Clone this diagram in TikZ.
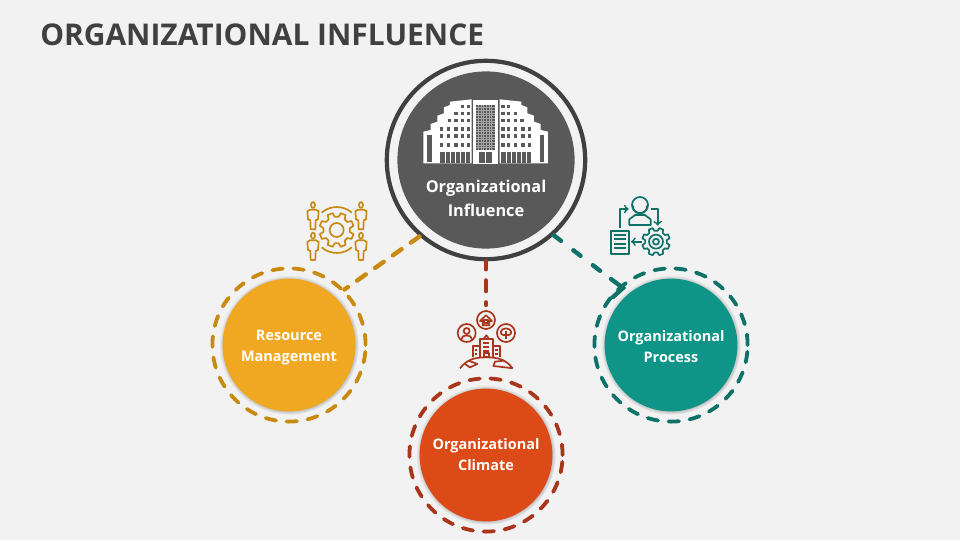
\documentclass[tikz,border=0pt]{standalone}
\usepackage{fontspec}
\setmainfont{Open Sans}
\usetikzlibrary{shadows, calc}

\definecolor{bgGray}{HTML}{F2F2F2}
\definecolor{darkGray}{HTML}{404040}
\definecolor{mainGray}{HTML}{595959}
\definecolor{gridGray}{HTML}{A6A6A6}
\definecolor{resFill}{HTML}{F0A823}
\definecolor{resLine}{HTML}{C98A12}
\definecolor{climFill}{HTML}{DB4A17}
\definecolor{climLine}{HTML}{A9361B}
\definecolor{procFill}{HTML}{0F9488}
\definecolor{procLine}{HTML}{0F7268}

\tikzset{
    bubble/.style={circle, minimum size=33.2mm, inner sep=0pt, circular glow={fill=black!55, shadow scale=1.05}},
    bubbletext/.style={align=center, text=white, font=\bfseries\fontsize{10.3}{15}\selectfont},
    ring/.style={circle, minimum size=38.3mm, inner sep=0pt, line width=2.7pt, dash pattern=on 7.5pt off 7.5pt, line cap=round},
    link/.style={line width=3.1pt, line cap=round, dash pattern=on 7.6pt off 8pt},
    iconline/.style={line width=1.2pt, line join=round, fill=none},
    pics/person/.style={code={
        \draw[iconline] (0,-28) ellipse (6 and 9);
        \draw[iconline] (-9,-14) -- (9,-14) -- (17,-9) -- (15,15) -- (8,18) -- (7,45) -- (-7,45) -- (-8,18) -- (-15,15) -- (-17,-9) -- cycle;
    }},
    pics/gearicon/.style n args={3}{code={
        \draw[iconline] (0-14:#1) \foreach \a in {0,45,...,315}{ -- (\a-14:#1) -- (\a-8:#2) -- (\a+8:#2) -- (\a+14:#1) } -- cycle;
        \draw[iconline] (0,0) circle (#3);
    }},
    pics/wing/.style={code={
        \fill[white] (-187,85) -- (-165,80) -- (-165,62) -- (-145,55) -- (-145,37) -- (-125,30) -- (-125,12) -- (-107,5) -- (-107,-5) -- (-42,-12) -- (-42,180) -- (-187,180) -- cycle;
        \foreach \wx/\wy in {-69/10, -52/10, -89/30, -69/30, -52/30, -109/52, -89/52, -69/52, -52/52} {
            \fill[mainGray] (\wx-5,\wy-5) rectangle (\wx+5,\wy+5);
        }
        \foreach \wy in {77,98,125} {
            \foreach \wx in {-132,-112,-89,-69,-52} {
                \fill[mainGray] (\wx-5,\wy-5) rectangle (\wx+5,\wy+5);
            }
        }
        \fill[mainGray] (-175,95) rectangle (-162,175);
        \fill[mainGray] (-137,145) rectangle (-47,178);
        \foreach \wx in {-122,-107,-92,-77,-62} {
            \draw[white, line width=0.5pt] (\wx,145) -- (\wx,178);
        }
    }},
}

\begin{document}
\begin{tikzpicture}[x=0.25mm, y=-0.25mm]
    \fill[bgGray] (0,0) rectangle (960,540);
    \useasboundingbox (0,0) rectangle (960,540);

    \node[anchor=west, text=darkGray, font=\bfseries\fontsize{21.3}{26}\selectfont, inner sep=0pt] (title) at (40,34.5) {ORGANIZATIONAL INFLUENCE};

    % dashed rings
    \node[ring, draw=resLine] (resring) at (289,345) {};
    \node[ring, draw=climLine] (climring) at (486,455) {};
    \node[ring, draw=procLine] (procring) at (671,345) {};

    % circles
    \node[bubble, fill=resFill] (res) at (289,345) {};
    \node[bubble, fill=climFill] (clim) at (486,455) {};
    \node[bubble, fill=procFill] (proc) at (671,345) {};
    \node[bubbletext] (reslabel) at (289,347.5) {Resource\\Management};
    \node[bubbletext] (climlabel) at (486,455) {Organizational\\Climate};
    \node[bubbletext] (proclabel) at (671,347) {Organizational\\Process};

    % centre circle
    \node[circle, minimum size=49.6mm, inner sep=0pt, draw=darkGray, line width=3pt, fill=bgGray] (main) at (486,160) {};
    \node[circle, minimum size=44.3mm, inner sep=0pt, fill=mainGray] (inner) at (main) {};
    \node[text=white, align=center, font=\bfseries\fontsize{11.6}{17}\selectfont] (mainlabel) at (486,198) {Organizational\\Influence};

    % links
    \coordinate (climend) at (486,305);
    \coordinate (procdash) at (603,273);
    \coordinate (procend) at (623,288);
    \draw[link, resLine] (main.229) -- (resring.45);
    \draw[link, climLine, dash phase=2pt] (main.south) -- (climend);
    \draw[link, procLine, dash pattern=on 6.5pt off 11pt] (main.-48) -- (procdash);
    \draw[line width=3.1pt, line cap=round, procLine] (611,279) -- (procend) -- (613,297);

    % building
    \begin{scope}[shift={(380,50)}, scale=0.3333]
        \pic[transform shape] at (317,160) {wing};
        \pic[transform shape, xscale=-1] at (317,160) {wing};
        \fill[white] (278,150) rectangle (355,342);
        \fill[mainGray] (287,165) rectangle (345,300);
        \foreach \wx in {295,303,...,340} {
            \draw[gridGray, line width=0.3pt] (\wx,165) -- (\wx,300);
        }
        \foreach \wy in {173,181,...,296} {
            \draw[gridGray, line width=0.3pt] (287,\wy) -- (345,\wy);
        }
        \fill[mainGray] (298,305) rectangle (335,338);
        \draw[white, line width=0.4pt] (316,305) -- (316,338);
    \end{scope}

    % gear with people
    \begin{scope}[shift={(290,190)}, scale=0.3333, resLine]
        \pic[transform shape] at (69,73) {person};
        \pic[transform shape] at (213,73) {person};
        \pic[transform shape] at (69,165) {person};
        \pic[transform shape] at (213,165) {person};
        \pic[transform shape] at (140,120) {gearicon={52}{40}{21}};
        \draw[iconline] (95,68) arc[start angle=-131, end angle=-49, radius=69];
        \draw[iconline] (95,172) arc[start angle=131, end angle=49, radius=69];
    \end{scope}

    % person, document and gear
    \begin{scope}[shift={(550,185)}, scale=0.3333, procLine]
        \draw[iconline] (270,60) circle (24);
        \draw[iconline] (250,62) -- (250,72) .. controls (255,90) and (285,90) .. (290,72) -- (290,62);
        \draw[iconline] (238,120) -- (238,103) -- (255,90) -- (285,90) -- (302,103) -- (302,120) -- cycle;
        \draw[iconline] (182,137) rectangle (237,208);
        \foreach \ly in {150,163,176,189} {
            \draw[iconline] (192,\ly) -- (228,\ly);
        }
        \pic[transform shape] at (318,170) {gearicon={42}{33}{21}};
        \draw[iconline] (318,170) circle (9);
        \draw[iconline, ->] (210,128) -- (210,72) -- (236,72);
        \draw[iconline, ->] (303,72) -- (323,72) -- (323,122);
        \draw[iconline, ->] (275,170) -- (243,170);
    \end{scope}

    % buildings on globe
    \begin{scope}[shift={(440,260)}, scale=0.3333, climLine]
        \draw[iconline] (138,180) circle (27);
        \draw[iconline] (80,219) circle (27);
        \draw[iconline] (198,219) circle (27);
        % house
        \draw[iconline] (120,183) -- (138,166) -- (156,183) -- (148,183) -- (148,196) -- (128,196) -- (128,183) -- cycle;
        \draw[iconline] (133,181) rectangle (143,190);
        % head and shoulders
        \draw[iconline] (80,213) circle (9);
        \draw[iconline] (64,238) .. controls (64,222) and (96,222) .. (96,238);
        % tree
        \draw[iconline] (198,205) .. controls (180,205) and (178,225) .. (190,225) -- (206,225) .. controls (218,225) and (216,205) .. (198,205);
        \draw[iconline] (198,212) -- (198,238);
        % buildings
        \draw[iconline] (120,290) -- (120,238) -- (158,238) -- (158,290);
        \draw[iconline] (130,238) -- (139,226) -- (148,238);
        \draw[iconline] (120,258) -- (98,258) -- (98,292);
        \draw[iconline] (158,258) -- (180,258) -- (180,292);
        \draw[iconline] (130,250) -- (148,250) (130,262) -- (148,262) (130,274) -- (148,274);
        \draw[iconline] (131,290) rectangle (147,278);
        \draw[iconline] (105,270) -- (112,270) (105,282) -- (112,282) (166,270) -- (173,270) (166,282) -- (173,282);
        % globe
        \draw[iconline] (60,325) .. controls (80,300) and (100,292) .. (139,292) .. controls (178,292) and (198,300) .. (218,325);
        \draw[iconline] (75,312) -- (90,322) -- (112,312) -- (86,302);
        \draw[iconline] (218,325) -- (195,322) -- (160,318) -- (165,305) -- (192,302);
    \end{scope}
\end{tikzpicture}
\end{document}
